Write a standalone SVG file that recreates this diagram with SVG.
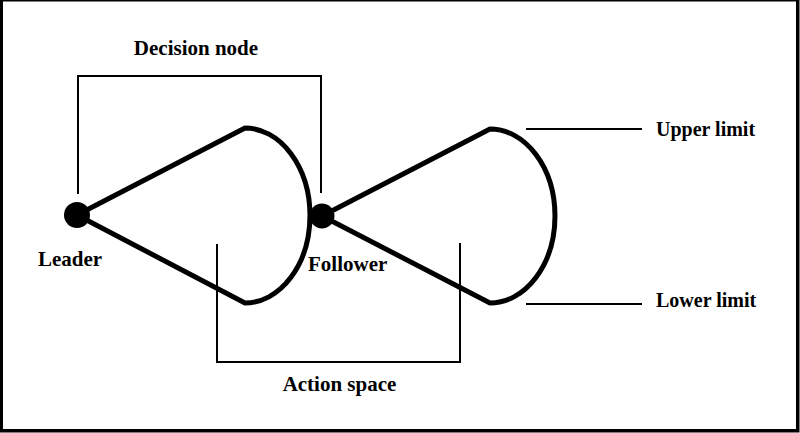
<svg xmlns="http://www.w3.org/2000/svg" width="800" height="433" viewBox="0 0 800 433">
<style>
.lbl{font-family:"Liberation Serif","Times New Roman",serif;font-weight:bold;font-size:21px;fill:#000}
.lim{font-size:20px}
.cone{fill:none;stroke:#000;stroke-width:5;stroke-linejoin:round}
.br{fill:none;stroke:#000;stroke-width:2}
</style>
<rect x="0" y="0" width="800" height="433" fill="#fff"/>
<path d="M0 0H799.5V432.5H0Z M3 1.5V429H796V1.5Z" fill="#000" fill-rule="evenodd"/>
<g id="connectors">
<path class="br" d="M78 194V76H321V193"/>
<path class="br" d="M217 244V362H460V243"/>
<path class="br" d="M526 129H642"/>
<path class="br" d="M526 304H642"/>
</g>
<g id="leader-cone">
<path class="cone" d="M77 215L245 128A65 87.5 0 0 1 245 303Z"/>
</g>
<g id="follower-cone">
<path class="cone" d="M322 216L490 129A65 87 0 0 1 490 303Z"/>
</g>
<g id="leader">
<circle cx="77" cy="215" r="13" fill="#000"/>
<text class="lbl" x="38" y="266">Leader</text>
</g>
<g id="follower">
<circle cx="322" cy="216" r="12.5" fill="#000"/>
<text class="lbl" x="308" y="271">Follower</text>
</g>
<g id="decision-node"><text class="lbl" x="196" y="55" text-anchor="middle">Decision node</text></g>
<g id="action-space"><text class="lbl" x="339.5" y="391" text-anchor="middle">Action space</text></g>
<g id="upper-limit"><text class="lbl lim" x="656" y="136">Upper limit</text></g>
<g id="lower-limit"><text class="lbl lim" x="656" y="307">Lower limit</text></g>
</svg>
